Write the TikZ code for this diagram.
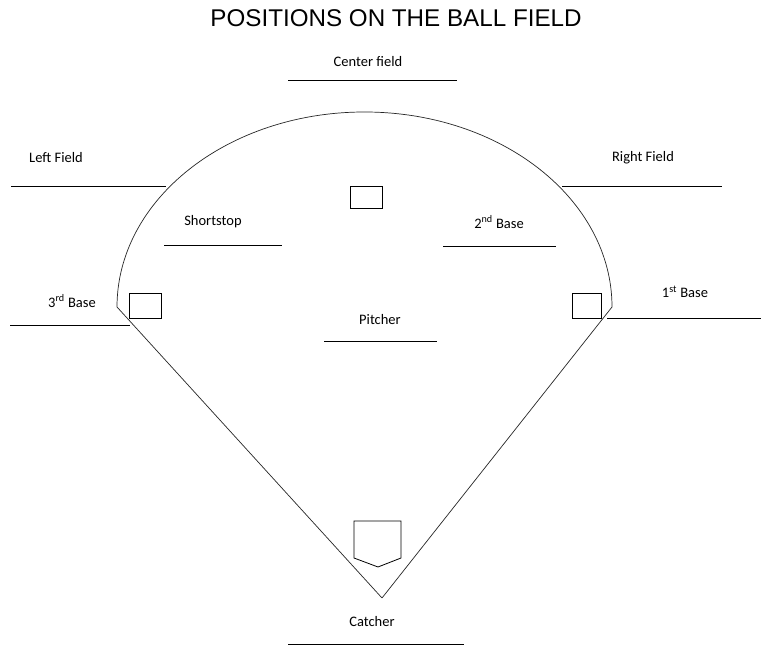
\documentclass[tikz,border=0pt]{standalone}
\usepackage{fontspec}
\setmainfont{Carlito}
\newfontfamily\titlefont{Liberation Sans}
\usetikzlibrary{calc}
\def\answerline(#1:#2:#3){\draw[blank] (#1, #3) -- (#2, #3);}

\begin{document}
\begin{tikzpicture}[x=1pt, y=1pt,
		blank/.style={line width=0.9pt, color=black},
		field/.style={line width=0.7pt, color=black!85},
		base/.style={line width=0.8pt, color=black},
		spot/.style={font=\fontsize{14.5}{16}\selectfont, inner sep=0pt}]
		%%%%% START %%%%%
		\useasboundingbox[fill=white] (0, 0) rectangle (770, 658);
		
		\node[font=\titlefont\fontsize{24.2}{26}\selectfont, inner sep=0pt] (title) at (396, 640) {POSITIONS ON THE BALL FIELD};
		
		% the field
		\coordinate (home) at (382, 60);
		\coordinate (third) at (117, 351);
		\coordinate (first) at (612, 351);
		\draw[field] (home) -- (third) arc (180:0:247.5 and 195) -- (home);
		
		% bases
		\draw[base] (350, 450) rectangle (382, 472);
		\draw[base] (129, 340) rectangle (161, 365);
		\draw[base] (572, 340) rectangle (601, 365);
		\draw[base] (354, 137) -- (401, 137) -- (401, 100) -- (378, 91) -- (354, 100) -- cycle;
		
		% positions
		\node[spot] (center) at (368, 596) {Center field};
		\answerline(288:457:578)
		\node[spot] (left) at (56, 500) {Left Field};
		\answerline(11:166:472)
		\node[spot] (right) at (643, 500) {Right Field};
		\answerline(562:722:472)
		\node[spot] (short) at (213, 436) {Shortstop};
		\answerline(164:282:413)
		\node[spot] (second) at (499, 436) {2\textsuperscript{nd} Base};
		\answerline(443:556:412)
		\node[spot] (thirdbase) at (72, 357) {3\textsuperscript{rd} Base};
		\answerline(10:130:333)
		\node[spot] (firstbase) at (685, 366) {1\textsuperscript{st} Base};
		\answerline(607:761:340)
		\node[spot] (pitcher) at (380, 338) {Pitcher};
		\answerline(324:437:317)
		\node[spot] (catcher) at (372, 36) {Catcher};
		\answerline(288:464:14)
		
		%%%%% END %%%%%
	\end{tikzpicture}
\end{document}
